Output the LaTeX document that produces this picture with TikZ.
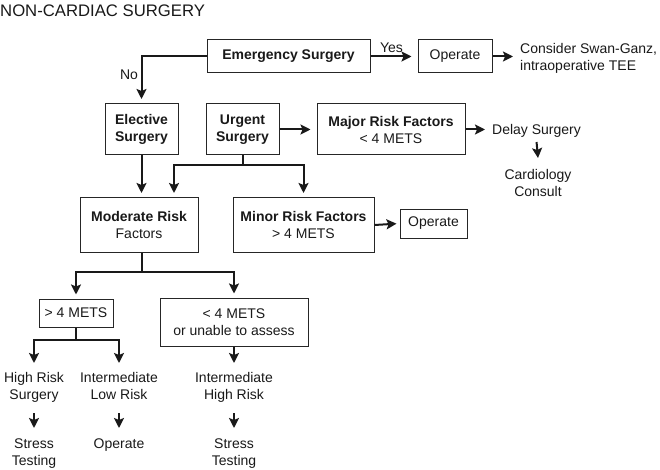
\documentclass[tikz,border=0pt]{standalone}
\usepackage{fontspec}
\setmainfont{Liberation Sans}
\usetikzlibrary{arrows.meta}
\begin{document}
\begin{tikzpicture}[x=1pt,y=-1pt,
  font=\fontsize{14}{17}\selectfont,
  every node/.style={text=black!90},
  box/.style={draw=black!85, line width=1pt, inner sep=0pt, align=center},
  plain/.style={inner xsep=7pt, inner ysep=0pt, align=center},
  lbl/.style={inner sep=0pt},
  conn/.style={line width=2pt, draw=black!90},
  arr/.style={conn, -{Stealth[length=10pt,width=10pt,inset=2pt]}}
]
\useasboundingbox (0,0) rectangle (660,470);

% title
\node[lbl, anchor=north west, font=\fontsize{16.7}{20}\selectfont] (title) at (0,4.5) {NON-CARDIAC SURGERY};

% top row
\node[box, minimum width=163pt, minimum height=33pt] (emer) at (288.5,56.5) {\textbf{Emergency Surgery}};
\node[box, minimum width=74pt, minimum height=33pt] (op1) at (455,56.5) {Operate};
\node[plain, anchor=north west, align=left] (consider) at (513,43) {Consider Swan-Ganz,\\intraoperative TEE};
\node[lbl] (yes) at (391.5,48) {Yes};
\node[lbl] (no) at (129,75) {No};

% second row
\node[box, minimum width=73pt, minimum height=51pt] (elective) at (141.5,129.5) {\textbf{Elective}\\\textbf{Surgery}};
\node[box, minimum width=73pt, minimum height=51pt] (urgent) at (242.5,129.5) {\textbf{Urgent}\\\textbf{Surgery}};
\node[box, minimum width=148pt, minimum height=51pt] (major) at (391,129.5) {\textbf{Major Risk Factors}\\< 4 METS};
\node[plain, anchor=north west] (delay) at (485,124) {Delay Surgery};
\node[plain, anchor=north] (cardio) at (538,169) {Cardiology\\Consult};

% third row
\node[box, minimum width=118pt, minimum height=54pt] (moderate) at (139,225) {\textbf{Moderate Risk}\\Factors};
\node[box, minimum width=141pt, minimum height=54pt] (minor) at (303.5,225) {\textbf{Minor Risk Factors}\\> 4 METS};
\node[box, minimum width=67pt, minimum height=29pt] (op2) at (433.5,223.5) {Operate};

% fourth row
\node[box, minimum width=74pt, minimum height=28pt] (gt4) at (76,313) {> 4 METS};
\node[box, minimum width=148pt, minimum height=48pt] (lt4) at (234,322) {< 4 METS\\or unable to assess};

% outcome texts
\node[plain, anchor=north] (highrisk) at (34,372) {High Risk\\Surgery};
\node[plain, anchor=north] (intlow) at (119,372) {Intermediate\\Low Risk};
\node[plain, anchor=north] (inthigh) at (234,372) {Intermediate\\High Risk};
\node[plain, anchor=north] (stress1) at (34,439) {Stress\\Testing};
\node[plain, anchor=north] (op3) at (119,439) {Operate};
\node[plain, anchor=north] (stress2) at (234,439) {Stress\\Testing};

% junction coordinates
\coordinate (uj) at (242.5,165);
\coordinate (mj) at (142,272);
\coordinate (gj) at (76,340);

% connectors
\draw[arr, shorten >=4.5pt] (emer.west) -| (elective.north);
\draw[arr, shorten >=6pt] (emer.east) -- (op1.west);
\draw[arr] (op1.east) -- (consider.west |- op1.east);
\draw[arr, shorten >=6pt] (urgent.east) -- (major.west);
\draw[arr] (major.east) -- (delay.west |- major.east);
\draw[arr] ([yshift=-18pt]delay.north) -- ([yshift=11pt]cardio.north);

\draw[arr, shorten >=4.5pt] (elective.south) -- (elective.south |- moderate.north);
\draw[conn] (urgent.south) -- (uj);
\draw[arr, shorten >=4.5pt] (uj) -| ([xshift=35pt]moderate.north);
\draw[arr, shorten >=4.5pt] (uj) -| (minor.north);
\draw[arr, shorten >=3pt] (minor.east) -- (op2.west);

\draw[conn] (mj |- moderate.south) -- (mj);
\draw[arr, shorten >=4pt] (mj) -| (gt4.north);
\draw[arr, shorten >=4pt] (mj) -| (lt4.north);

\draw[conn] (gt4.south) -- (gj);
\draw[arr, shorten >=9pt] (gj) -| (highrisk.north);
\draw[arr, shorten >=9pt] (gj) -| (intlow.north);
\draw[arr, shorten >=9pt] (lt4.south) -- (inthigh.north);

\draw[arr] ([yshift=-41pt]highrisk.north) -- ([yshift=11pt]stress1.north);
\draw[arr] ([yshift=-41pt]intlow.north) -- ([yshift=11pt]op3.north);
\draw[arr] ([yshift=-41pt]inthigh.north) -- ([yshift=11pt]stress2.north);
\end{tikzpicture}
\end{document}
